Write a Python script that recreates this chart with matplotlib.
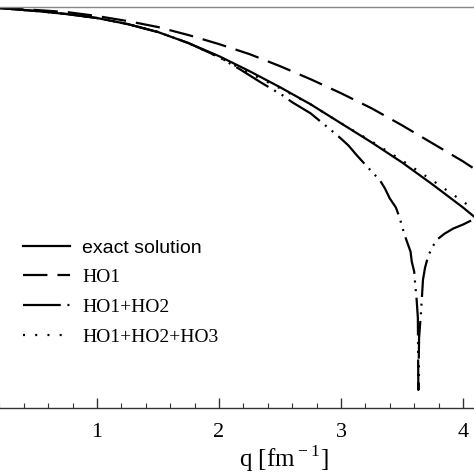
import matplotlib
matplotlib.use("Agg")
import matplotlib.pyplot as plt
from matplotlib.ticker import MultipleLocator
import numpy as np

plt.rcParams['font.family'] = ['Liberation Serif', 'DejaVu Serif']
plt.rcParams['mathtext.fontset'] = 'custom'
plt.rcParams['mathtext.rm'] = 'Liberation Serif'

# log10 of form factor
q_exact = [0, 0.2, 0.5, 0.75, 1.0, 1.25, 1.5, 1.75, 2.0, 2.25, 2.5, 2.75, 3.0, 3.25, 3.5, 3.75, 4.0, 4.1]
lg_exact = [0, -0.01, -0.04, -0.07, -0.11, -0.17, -0.25, -0.36, -0.49, -0.64, -0.80, -0.97, -1.16, -1.35, -1.55, -1.77, -2.00, -2.10]

q_ho1 = [0, 0.2, 0.5, 0.75, 1.0, 1.25, 1.5, 1.75, 2.0, 2.25, 2.5, 2.75, 3.0, 3.25, 3.5, 3.75, 4.0, 4.1]
lg_ho1 = [0, -0.01, -0.03, -0.05, -0.09, -0.14, -0.20, -0.28, -0.37, -0.47, -0.59, -0.72, -0.86, -1.01, -1.18, -1.36, -1.54, -1.62]

q_ho12 = [0, 0.2, 0.5, 0.75, 1.0, 1.25, 1.5, 1.75, 2.0, 2.17, 2.34, 2.52, 2.60, 2.75, 2.89, 2.97, 3.06,
          3.13, 3.22, 3.32, 3.36, 3.40, 3.45, 3.48, 3.52, 3.57, 3.58, 3.60, 3.607, 3.62, 3.63, 3.634,
          3.64, 3.656, 3.672, 3.689, 3.713, 3.746, 3.787, 3.85, 3.92, 4.0, 4.1]
lg_ho12 = [0, -0.01, -0.04, -0.07, -0.11, -0.17, -0.25, -0.36, -0.50, -0.62, -0.75, -0.88, -0.95, -1.06, -1.20, -1.28, -1.38,
           -1.48, -1.60, -1.73, -1.81, -1.91, -2.00, -2.10, -2.27, -2.44, -2.54, -2.64, -2.75, -2.92, -3.10, -3.82,
           -3.30, -3.04, -2.72, -2.60, -2.49, -2.40, -2.32, -2.26, -2.21, -2.17, -2.11]

q_ho123 = [0, 0.2, 0.5, 0.75, 1.0, 1.25, 1.5, 1.75, 2.0, 2.25, 2.5, 2.75, 3.0, 3.25, 3.5, 3.75, 4.0, 4.1]
lg_ho123 = [0, -0.01, -0.04, -0.07, -0.11, -0.17, -0.25, -0.36, -0.50, -0.66, -0.81, -0.97, -1.16, -1.34, -1.53, -1.73, -1.94, -2.03]

labels = ["exact solution", "HO1", "HO1+HO2", "HO1+HO2+HO3"]

fig = plt.figure(figsize=(4.74, 4.74), dpi=100)
# axes run past the left/right edges of the picture (cropped figure)
ax = fig.add_axes([-25 / 474, 66 / 474, 549 / 474, 401 / 474])

lw = 1.6
ax.plot(q_exact, 10 ** np.array(lg_exact), color='black', lw=lw, label=labels[0])
ax.plot(q_ho1, 10 ** np.array(lg_ho1), color='black', lw=lw, ls=(0, (11, 4.5)), label=labels[1])
ax.plot(q_ho12, 10 ** np.array(lg_ho12), color='black', lw=lw,
        ls=(0, (17, 3, 0.9, 3, 0.9, 3)), label=labels[2])
ax.plot(q_ho123, 10 ** np.array(lg_ho123), color='black', lw=lw, ls=(0, (0.9, 4.6)), label=labels[3])

ax.set_yscale('log')
ax.set_xlim(0, 4.5)
ax.set_ylim(10 ** -4.0, 1.0)

for s in ['left', 'right']:
    ax.spines[s].set_visible(False)
ax.spines['top'].set_color('#888888')
ax.spines['top'].set_linewidth(1.0)
ax.spines['bottom'].set_color('#333333')
ax.spines['bottom'].set_linewidth(1.0)

ax.set_yticks([])
ax.yaxis.set_minor_locator(plt.NullLocator())
ax.xaxis.set_major_locator(MultipleLocator(1))
ax.xaxis.set_minor_locator(MultipleLocator(0.2))
ax.tick_params(axis='x', which='major', direction='in', length=7.2, width=1.0,
               color='#333333', labelsize=16, pad=10.5, top=False)
ax.tick_params(axis='x', which='minor', direction='in', length=3.6, width=0.8,
               color='#333333', top=False)
ax.set_xticks([1, 2, 3, 4])

fig.text(284 / 474, 7 / 474, r"q [fm$^{\rm -1}$]", fontsize=18, ha='center', va='baseline')

leg = ax.legend(loc='upper left', bbox_to_anchor=(23 / 474, 1 - 239 / 474),
                bbox_transform=fig.transFigure, frameon=False, fontsize=14,
                handlelength=2.42, handletextpad=0.62, labelspacing=0.62,
                borderpad=0, borderaxespad=0)
leg.get_texts()[0].set_family(['Liberation Sans', 'DejaVu Sans'])

fig.savefig("out.png", dpi=100)
